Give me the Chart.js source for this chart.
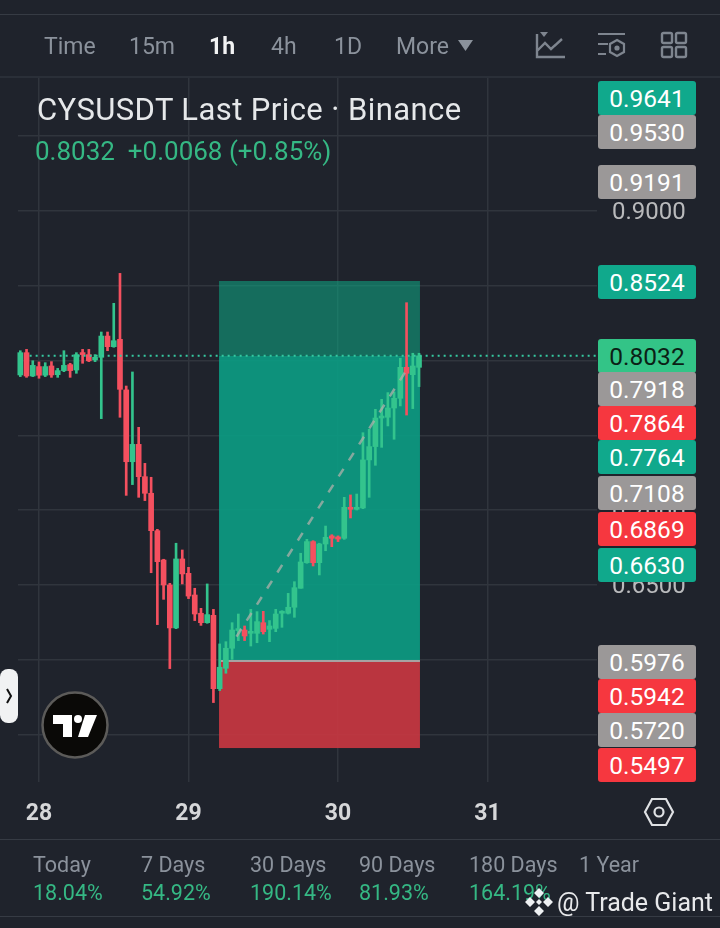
<!DOCTYPE html>
<html>
<head>
<meta charset="utf-8">
<script src="https://cdn.jsdelivr.net/npm/chart.js@4"></script>
<style>
  html, body { margin: 0; padding: 0; background: #1f232c; }
  body { width: 720px; height: 928px; position: relative; overflow: hidden; font-family: Roboto, sans-serif; }
  canvas { position: absolute; left: 0; top: 0; }
  .t { position: absolute; white-space: pre; line-height: 1; transform: translateY(-50%); }
  .rule { position: absolute; left: 0; width: 720px; height: 1px; background: #363b44; }
  .badge { position: absolute; left: 598px; width: 98px; height: 34px; line-height: 36px; border-radius: 3px;
    text-align: center; font-size: 24.5px; color: #fff; transform: translateY(-50%); }
  svg { position: absolute; overflow: visible; }
</style>
</head>
<body>
<canvas id="chart" width="720" height="928"></canvas>

<div class="rule" style="top:14px"></div>
<div class="rule" style="top:76px;height:2px;background:#2a2f38"></div>
<div class="rule" style="top:839px"></div>
<div class="rule" style="top:916px"></div>

<div id="toolbar"></div>
<svg style="left:458px;top:40px" width="16" height="12"><path d="M0 0H15L7.5 11Z" fill="#8b929c"/></svg>

<svg style="left:535px;top:31px" width="30" height="29" fill="none" stroke="#7e858f" stroke-width="2.4">
  <path d="M2 3V26H30M2 20L10 12L16 18L27 8"/><path d="M5 1H13L9 6Z" fill="#7e858f" stroke="none"/>
</svg>
<svg style="left:597px;top:32px" width="30" height="27" fill="none" stroke="#7e858f" stroke-width="2.2">
  <path d="M1 2H28M1 12H11M1 22H9M20 8L27 12V20L20 24L13 20V12Z"/><circle cx="20" cy="16" r="1.5" fill="#7e858f"/>
</svg>
<svg style="left:660px;top:31px" width="28" height="28" fill="none" stroke="#7e858f" stroke-width="2.4">
  <rect x="2" y="2" width="10" height="10" rx="1.5"/><rect x="16" y="2" width="10" height="10" rx="1.5"/>
  <rect x="2" y="16" width="10" height="10" rx="1.5"/><rect x="16" y="16" width="10" height="10" rx="1.5"/>
</svg>

<div class="t" style="left:37px;top:109px;font-size:31px;letter-spacing:0.42px;color:#e6e8ea">CYSUSDT Last Price · Binance</div>
<div class="t" style="left:35px;top:151px;font-size:26px;color:#35b884">0.8032  +0.0068 (+0.85%)</div>

<div id="badges"></div>

<svg style="left:644px;top:796px" width="30" height="32" fill="none" stroke="#dfe1e4" stroke-width="2.2">
  <path d="M8 3H22L29 16L22 29H8L1 16Z"/><circle cx="15" cy="16" r="4.5"/>
</svg>

<div id="stats"></div>

<svg style="left:0;top:669px" width="18" height="54">
  <rect x="0" y="0" width="18" height="54" rx="8" fill="#f1f2f3"/>
  <path d="M7 20L11 27L7 34" fill="none" stroke="#111" stroke-width="2"/>
</svg>
<svg style="left:41px;top:691px" width="68" height="68">
  <circle cx="34" cy="34" r="32.5" fill="#0a0907" stroke="#5c5b59" stroke-width="2.5"/>
  <path d="M12 24H31V46H22V33H12Z" fill="#fff"/><circle cx="37" cy="28" r="4" fill="#fff"/>
  <path d="M44 24H56L47 46H37Z" fill="#fff"/>
</svg>

<svg style="left:525px;top:888px" width="28" height="28" fill="#eef0f2">
  <path d="M14 0L19 5L14 10L9 5Z M5 9L10 14L5 19L0 14Z M23 9L28 14L23 19L18 14Z M14 18L19 23L14 28L9 23Z"/>
  <path d="M14 11L17 14L14 17L11 14Z"/>
</svg>
<div class="t" style="left:557px;top:902px;font-size:25px;color:#e8e9eb">@ Trade Giant</div>

<script>
// hours since the 28th 00:00
const hours = [-3,-2,-1,0,1,2,3,4,5,6,7,8,9,10,11,12,13,14,15,16,17,18,19,20,21,22,23,24,25,26,27,28,29,30,31,32,33,34,35,36,37,38,39,40,41,42,43,44,45,46,47,48,49,50,51,52,53,54,55,56,57,58,59,60,61];
const opens = [.7904,.8053,.7897,.7960,.7902,.7964,.7906,.7933,.7973,.7937,.8053,.8040,.8004,.8022,.8164,.8093,.8142,.7804,.7324,.7440,.7224,.7113,.6863,.6667,.6500,.6213,.6674,.6578,.6433,.6311,.6248,.6297,.5807,.5943,.6077,.6195,.6199,.6177,.6177,.6248,.6204,.6210,.6311,.6311,.6351,.6478,.6649,.6790,.6649,.6774,.6828,.6821,.6812,.7019,.7006,.7015,.7336,.7425,.7616,.7621,.7683,.7748,.7955,.7906,.7955];
const closes = [.8053,.7897,.7968,.7902,.7960,.7904,.7933,.7968,.7933,.8040,.8040,.7999,.8022,.8164,.8093,.8133,.7808,.7324,.7440,.7224,.7113,.6863,.6656,.6500,.6213,.6674,.6574,.6426,.6306,.6248,.6302,.5807,.5950,.6077,.6199,.6204,.6159,.6188,.6255,.6188,.6226,.6306,.6322,.6351,.6482,.6654,.6790,.6649,.6774,.6819,.6812,.6807,.7019,.7006,.7019,.7336,.7425,.7616,.7625,.7683,.7748,.7955,.7915,.7964,.8032];
const highs = [.8066,.8075,.7999,.7991,.7986,.7993,.7948,.8066,.7982,.8053,.8075,.8075,.8040,.8191,.8191,.8383,.8583,.7830,.7924,.7554,.7313,.7220,.6872,.6672,.6511,.6779,.6734,.6618,.6478,.6344,.6507,.6337,.6106,.6121,.6248,.6306,.6226,.6337,.6322,.6324,.6262,.6337,.6328,.6444,.6522,.6712,.6805,.6796,.6779,.6894,.6836,.6828,.7086,.7102,.7108,.7518,.7541,.7674,.7741,.7786,.7790,.8015,.8387,.8049,.8049];
const lows = [.7893,.7888,.7893,.7882,.7893,.7888,.7888,.7926,.7888,.7915,.7982,.7993,.7993,.7612,.8066,.8089,.7621,.7099,.7171,.7086,.7064,.6582,.6235,.6404,.5941,.6208,.6507,.6409,.6262,.6230,.6244,.5714,.5794,.5910,.6003,.6128,.6128,.6092,.6114,.6172,.6121,.6188,.6217,.6306,.6284,.6478,.6645,.6627,.6567,.6729,.6756,.6790,.6805,.6948,.7001,.7010,.7086,.7300,.7420,.7563,.7474,.7697,.7636,.7679,.7826];

const lastPrice = 0.8032;
const priceTicks = [0.95, 0.90, 0.85, 0.80, 0.75, 0.70, 0.65, 0.60, 0.55];
const dayTicks = [0, 24, 48, 72];
const dayLabels = ['28', '29', '30', '31'];

// long position tool
const positionHours = [28.9, 61.15];
const positionPrices = [0.8532, 0.5992, 0.5410];
const trendHours = [31.7, 59];
const trendPrices = [0.6155, 0.7937];

// right hand price tags
const tagPrices = ['0.9641','0.9530','0.9191','0.8524','0.8032','0.7918','0.7864','0.7764','0.7108','0.6869','0.6630','0.5976','0.5942','0.5720','0.5497'];
const tagKinds = ['t','g','g','t','l','g','r','t','g','r','t','g','r','g','r'];
const tagCentres = [98,132,182,282,356,389,423,457,493,529,565,662,696,730,765];
const tagColors = { t: '#10a98c', g: '#9b9898', r: '#f6373f', l: '#33c487' };

const toolbarNames = ['Time','15m','1h','4h','1D','More'];
const toolbarLefts = [44,129,209,271,334,396];
const statNames = ['Today','7 Days','30 Days','90 Days','180 Days','1 Year'];
const statValues = ['18.04%','54.92%','190.14%','81.93%','164.19%',''];
const statLefts = [33,141,250,359,469,579];

const GREEN = '#33c48d';
const RED = '#f4505f';
const candleColors = closes.map((c, i) => c >= opens[i] ? GREEN : RED);

toolbarNames.forEach((name, i) => {
  const el = document.createElement('div');
  el.className = 't';
  el.textContent = name;
  el.style.cssText = `left:${toolbarLefts[i]}px;top:46px;font-size:23px;color:${name === '1h' ? '#f2f3f4' : '#8b929c'};font-weight:${name === '1h' ? 700 : 400}`;
  document.getElementById('toolbar').appendChild(el);
});

tagPrices.forEach((txt, i) => {
  const el = document.createElement('div');
  el.className = 'badge';
  el.textContent = txt;
  el.style.top = tagCentres[i] + 'px';
  el.style.background = tagColors[tagKinds[i]];
  if (tagKinds[i] === 'l') el.style.color = '#0b1f16';
  document.getElementById('badges').appendChild(el);
});

statNames.forEach((name, i) => {
  const box = document.getElementById('stats');
  const a = document.createElement('div');
  a.className = 't';
  a.textContent = name;
  a.style.cssText = `left:${statLefts[i]}px;top:865px;font-size:21.5px;color:#8b929c`;
  box.appendChild(a);
  const b = document.createElement('div');
  b.className = 't';
  b.textContent = statValues[i];
  b.style.cssText = `left:${statLefts[i]}px;top:893px;font-size:21.5px;color:#35b884`;
  box.appendChild(b);
});

// paints the position box behind the candles, but over the grid
const positionBox = {
  id: 'positionBox',
  beforeDatasetsDraw(chart) {
    const { ctx, scales: { x, y } } = chart;
    const left = x.getPixelForValue(positionHours[0]);
    const right = x.getPixelForValue(positionHours[1]);
    const top = y.getPixelForValue(positionPrices[0]);
    const last = y.getPixelForValue(lastPrice);
    const entry = y.getPixelForValue(positionPrices[1]);
    const stop = y.getPixelForValue(positionPrices[2]);
    ctx.save();
    ctx.fillStyle = 'rgba(12,172,135,0.55)';
    ctx.fillRect(left, top, right - left, last - top);
    ctx.fillStyle = 'rgba(12,155,130,0.92)';
    ctx.fillRect(left, last, right - left, entry - last);
    ctx.fillStyle = 'rgba(200,55,65,0.92)';
    ctx.fillRect(left, entry, right - left, stop - entry);
    ctx.fillStyle = '#a8a3a3';
    ctx.fillRect(left, entry - 1, right - left, 2);
    ctx.restore();
  }
};

new Chart(document.getElementById('chart'), {
  type: 'bar',
  data: {
    datasets: [
      {
        type: 'line',
        data: [{ x: -1.5, y: lastPrice }, { x: 89.6, y: lastPrice }],
        borderColor: '#36c9a0',
        borderWidth: 2,
        borderDash: [2, 4],
        pointRadius: 0,
        order: 0,
      },
      {
        type: 'line',
        data: trendHours.map((h, i) => ({ x: h, y: trendPrices[i] })),
        borderColor: 'rgba(176,176,170,0.75)',
        borderWidth: 2.5,
        borderDash: [9, 10],
        pointRadius: 0,
        order: 1,
      },
      {
        data: hours.map((h, i) => ({ x: h, y: [opens[i], closes[i]] })),
        backgroundColor: candleColors,
        barThickness: 5,
        minBarLength: 2,
        clip: false,
        order: 2,
      },
      {
        data: hours.map((h, i) => ({ x: h, y: [lows[i], highs[i]] })),
        backgroundColor: candleColors,
        barThickness: 2,
        clip: false,
        order: 3,
      },
    ],
  },
  options: {
    responsive: false,
    animation: false,
    devicePixelRatio: 1,
    layout: { padding: { left: 18, top: 77, right: 0, bottom: 0 } },
    datasets: { bar: { grouped: false } },
    plugins: { legend: { display: false }, tooltip: { enabled: false }, title: { display: false } },
    scales: {
      x: {
        type: 'linear',
        offset: false,
        min: -3.37,
        max: 89.57,
        afterBuildTicks: scale => { scale.ticks = dayTicks.map(v => ({ value: v })); },
        afterFit: scale => { scale.height = 146; },
        grid: { offset: false, color: '#30353d', lineWidth: 1.5, drawTicks: false },
        border: { display: false },
        ticks: {
          padding: 18,
          maxRotation: 0,
          autoSkip: false,
          color: '#d6d7d9',
          font: { family: 'Roboto', size: 23, weight: 'bold' },
          callback: v => dayLabels[dayTicks.indexOf(v)],
        },
      },
      y: {
        position: 'right',
        min: 0.5183,
        max: 0.98957,
        afterBuildTicks: scale => { scale.ticks = priceTicks.map(v => ({ value: v })); },
        afterFit: scale => { scale.width = 123; },
        grid: { color: '#30353d', lineWidth: 1.5, drawTicks: false },
        border: { display: false },
        ticks: {
          padding: 15,
          color: '#b9babc',
          autoSkip: false,
          // blank first line with a small line height nudges the label down to its grid line
          font: { family: 'Roboto', size: 24, lineHeight: '5px' },
          callback: v => ['', v.toFixed(4)],
        },
      },
    },
  },
  plugins: [positionBox],
});
</script>
</body>
</html>
